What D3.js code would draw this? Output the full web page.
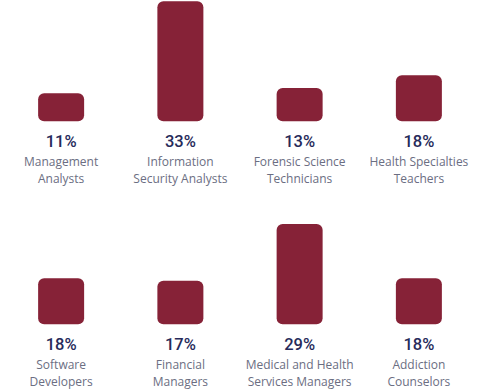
<!DOCTYPE html>
<html>
<head>
<meta charset="utf-8">
<script src="https://cdn.jsdelivr.net/npm/d3@7/dist/d3.min.js"></script>
<style>
  html, body { margin: 0; padding: 0; background: #ffffff; }
  svg { display: block; }
</style>
</head>
<body>
<svg id="chart" width="480" height="391"></svg>
<script>
// ---- data ----
const categories = [
  ["Management", "Analysts"],
  ["Information", "Security Analysts"],
  ["Forensic Science", "Technicians"],
  ["Health Specialties", "Teachers"],
  ["Software", "Developers"],
  ["Financial", "Managers"],
  ["Medical and Health", "Services Managers"],
  ["Addiction", "Counselors"]
];
const values = [11, 33, 13, 18, 18, 17, 29, 18];
const valueLabels = ["11%", "33%", "13%", "18%", "18%", "17%", "29%", "18%"];

// ---- layout ----
const W = 480, H = 391;
const cols = 4;
const barW = 46;
const rowBase = [121.3, 324.3];
const font = "'Open Sans', 'Noto Sans', sans-serif";
const pctFont = "Roboto, 'Open Sans', sans-serif";

const svg = d3.select("#chart");

const x = d3.scaleBand()
  .domain(d3.range(cols))
  .range([1.5, 478.5])
  .paddingInner(0)
  .paddingOuter(0);

// bar height scale (design is non-linear; piecewise linear fit)
const h = d3.scaleLinear()
  .domain([0, 18, 33])
  .range([0, 46, 120]);

const data = values.map((v, i) => ({
  v, label: valueLabels[i], cat: categories[i],
  col: i % cols, row: Math.floor(i / cols)
}));

const g = svg.selectAll("g.item").data(data).join("g")
  .attr("class", "item")
  .attr("transform", d => `translate(${x(d.col) + x.bandwidth() / 2},${rowBase[d.row]})`);

g.append("rect")
  .attr("x", -barW / 2)
  .attr("width", barW)
  .attr("y", d => -h(d.v))
  .attr("height", d => h(d.v))
  .attr("rx", 6).attr("ry", 6)
  .attr("fill", "#862237");

g.append("text")
  .attr("y", 26)
  .attr("text-anchor", "middle")
  .attr("font-family", pctFont)
  .attr("font-size", 16.5)
  .attr("font-weight", 500)
  .attr("fill", "#262a5a")
  .text(d => d.label);

g.append("text")
  .attr("text-anchor", "middle")
  .attr("font-family", font)
  .attr("font-size", 12)
  .attr("fill", "#6b6e82")
  .selectAll("tspan").data(d => d.cat).join("tspan")
  .attr("x", 0)
  .attr("y", (t, j) => 45 + j * 17)
  .text(t => t);
</script>
</body>
</html>
